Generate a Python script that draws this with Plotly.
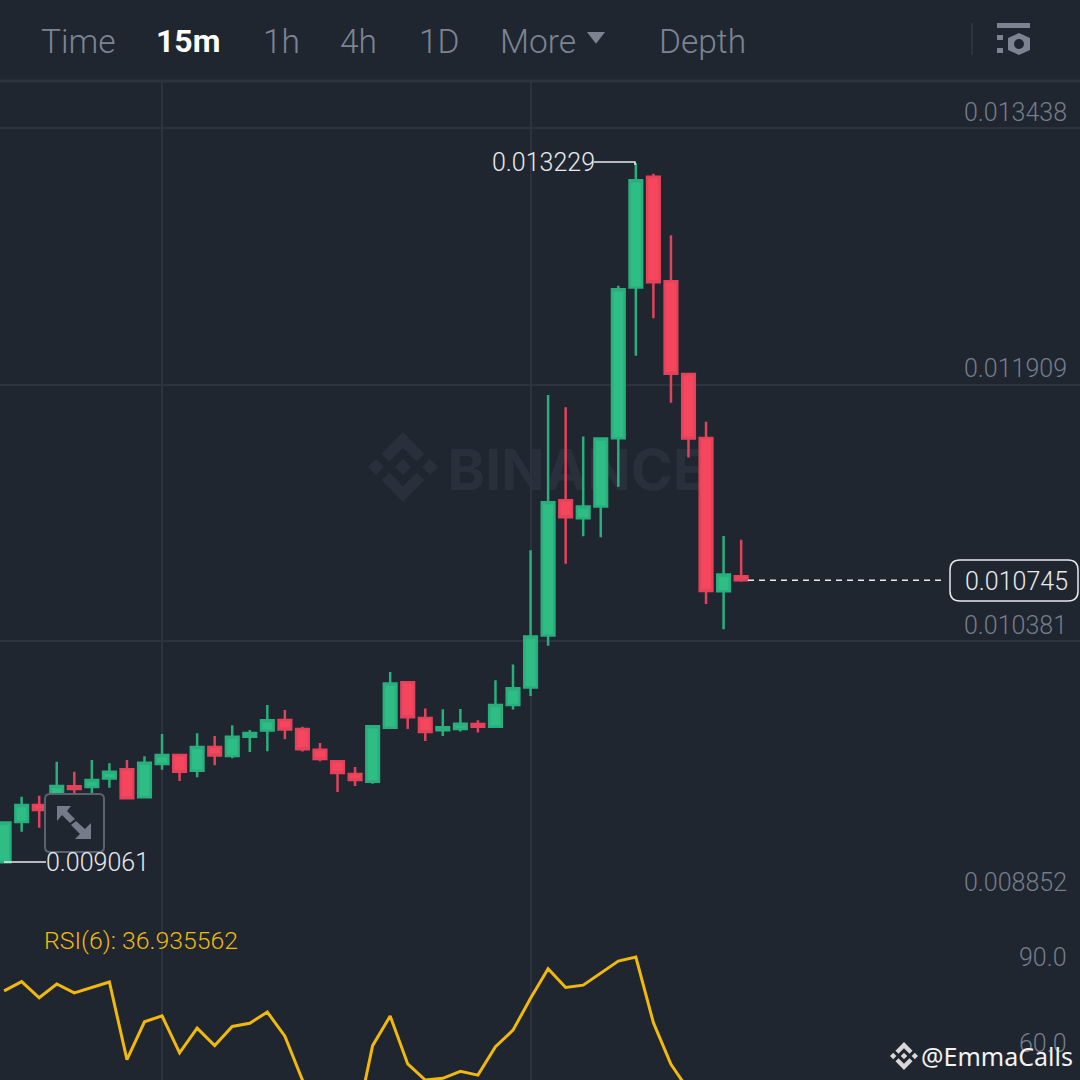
import plotly.graph_objects as go

# candle values
open_prices = [0.009065, 0.009305, 0.009406, 0.009388, 0.009517, 0.009513, 0.009563, 0.009619, 0.009452, 0.009650,
               0.009704, 0.009610, 0.009752, 0.009698, 0.009813, 0.009849, 0.009912, 0.009859, 0.009735, 0.009666,
               0.009591, 0.009545, 0.009866, 0.010137, 0.009924, 0.009851, 0.009859, 0.009889, 0.009872, 0.010002,
               0.010105, 0.010415, 0.011221, 0.011114, 0.011183, 0.011590, 0.012488, 0.013147, 0.012526, 0.011973,
               0.011592, 0.010679, 0.010768]
high_prices = [0.009305, 0.009455, 0.009461, 0.009664, 0.009604, 0.009674, 0.009654, 0.009674, 0.009696, 0.009829,
               0.009710, 0.009833, 0.009817, 0.009881, 0.009853, 0.010002, 0.009972, 0.009872, 0.009775, 0.009670,
               0.009632, 0.009877, 0.010198, 0.010143, 0.009980, 0.009976, 0.009978, 0.009911, 0.010149, 0.010242,
               0.010923, 0.011848, 0.011775, 0.011600, 0.011588, 0.012499, 0.013229, 0.013165, 0.012800, 0.011978,
               0.011688, 0.011008, 0.010985]
low_prices = [0.009061, 0.009247, 0.009271, 0.009346, 0.009454, 0.009466, 0.009509, 0.009438, 0.009449, 0.009616,
              0.009549, 0.009571, 0.009642, 0.009684, 0.009722, 0.009726, 0.009797, 0.009724, 0.009666, 0.009483,
              0.009519, 0.009533, 0.009863, 0.009859, 0.009787, 0.009817, 0.009843, 0.009837, 0.009871, 0.009974,
              0.010055, 0.010355, 0.010843, 0.011007, 0.011001, 0.011302, 0.012081, 0.012305, 0.011801, 0.011475,
              0.010603, 0.010453, 0.010736]
close_prices = [0.009301, 0.009406, 0.009376, 0.009519, 0.009501, 0.009555, 0.009604, 0.009446, 0.009658, 0.009704,
                0.009604, 0.009752, 0.009700, 0.009813, 0.009835, 0.009911, 0.009855, 0.009738, 0.009680, 0.009597,
                0.009555, 0.009875, 0.010130, 0.009928, 0.009841, 0.009869, 0.009890, 0.009872, 0.010002, 0.010101,
                0.010409, 0.011209, 0.011120, 0.011183, 0.011588, 0.012478, 0.013127, 0.012520, 0.011975, 0.011588,
                0.010681, 0.010778, 0.010745]
rsi_values = [78.2, 81.4, 75.8, 80.6, 77.5, 79.4, 81.3, 54.2, 67.4, 69.5,
              56.6, 65.2, 59.1, 65.8, 66.9, 70.8, 62.4, 47.1, 40.0, 38.0,
              30.0, 59.1, 69.4, 52.7, 47.1, 47.7, 50.1, 48.8, 58.7, 64.5,
              75.6, 85.9, 79.4, 80.2, 84.4, 88.6, 90.0, 67.1, 52.6, 43.6,
              33.0, 38.0, 36.9]
price_ticks = [0.013438, 0.011909, 0.010381, 0.008852]
price_labels = ['0.013438', '0.011909', '0.010381', '0.008852']
rsi_ticks = [90, 60]
rsi_labels = ['90.0', '60.0']
menu_items = ['Time', '15m', '1h', '4h', '1D', 'More', 'Depth']
menu_x = [39.5, 155, 261.5, 338.5, 417.5, 499, 658]
candle_idx = list(range(len(open_prices)))

BG = '#1F2630'
GRID = '#2C333E'
GREY = '#757D8A'
MENU = '#7C8493'
GREEN = '#2EBD85'
RED = '#F6465D'
YELLOW = '#F0B90B'
LABEL = '#E8EAEE'
FONT = 'Roboto'


# screen pixels to paper coordinates
def px(x):
    return x / 1080


def py(y):
    return 1 - y / 1080


def poly(points):
    return 'M' + 'L'.join(f'{px(x):.5f},{py(y):.5f}' for x, y in points) + 'Z'


def round_rect(x0, y0, x1, y1, r):
    c = [(x0 + r, y0), (x1 - r, y0), (x1, y0 + r), (x1, y1 - r), (x1 - r, y1), (x0 + r, y1), (x0, y1 - r), (x0, y0 + r)]
    p = [(px(a), py(b)) for a, b in c]
    return (f'M{p[0][0]},{p[0][1]}L{p[1][0]},{p[1][1]}Q{px(x1)},{py(y0)} {p[2][0]},{p[2][1]}'
            f'L{p[3][0]},{p[3][1]}Q{px(x1)},{py(y1)} {p[4][0]},{p[4][1]}'
            f'L{p[5][0]},{p[5][1]}Q{px(x0)},{py(y1)} {p[6][0]},{p[6][1]}'
            f'L{p[7][0]},{p[7][1]}Q{px(x0)},{py(y0)} {p[0][0]},{p[0][1]}Z')


# binance mark, drawn on a unit square centred on (cx, cy)
def logo_shapes(cx, cy, r, color, layer):
    pieces = [
        [(-.39, -.16), (0, -.55), (.39, -.16), (.61, -.38), (0, -1), (-.61, -.38)],
        [(-.39, .16), (0, .55), (.39, .16), (.61, .38), (0, 1), (-.61, .38)],
        [(-1, 0), (-.77, -.23), (-.55, 0), (-.77, .23)],
        [(1, 0), (.77, -.23), (.55, 0), (.77, .23)],
        [(-.23, 0), (0, -.23), (.23, 0), (0, .23)],
    ]
    return [dict(type='path', xref='paper', yref='paper', layer=layer, line_width=0, fillcolor=color,
                 path=poly([(cx + a * r, cy + b * r) for a, b in pc])) for pc in pieces]


def text(x, y, s, color, size, anchor='left', family=FONT, weight=300):
    return dict(xref='paper', yref='paper', x=px(x), y=py(y), text=s, showarrow=False, xanchor=anchor, yanchor='middle',
                font=dict(color=color, size=size, family=family, weight=weight), borderpad=0)


fig = go.Figure()
fig.add_trace(go.Candlestick(x=candle_idx, open=open_prices, high=high_prices, low=low_prices, close=close_prices,
                             whiskerwidth=0,
                             increasing=dict(line=dict(color='#2AAE7C', width=2.5), fillcolor=GREEN),
                             decreasing=dict(line=dict(color='#E2435A', width=2.5), fillcolor=RED)))
fig.add_trace(go.Scatter(x=candle_idx, y=rsi_values, mode='lines', xaxis='x2', yaxis='y2',
                         line=dict(color=YELLOW, width=3)))

annotations = []
for item, x in zip(menu_items, menu_x):
    if item == '15m':
        annotations.append(text(x, 41, item, '#FFFFFF', 32, weight='bold'))
    else:
        annotations.append(text(x, 41, item, MENU, 33.5))
for tick, label in zip(price_ticks, price_labels):
    annotations.append(dict(xref='paper', yref='y', x=px(1068.5), y=tick, yshift=16, text=label, showarrow=False,
                            xanchor='right', yanchor='middle', font=dict(color=GREY, size=25, family=FONT, weight=300)))
for tick, label in zip(rsi_ticks, rsi_labels):
    annotations.append(dict(xref='paper', yref='y2', x=px(1068.5), y=tick, text=label, showarrow=False,
                            xanchor='right', yanchor='middle', font=dict(color=GREY, size=25, family=FONT, weight=300)))
annotations.append(text(491, 162, '0.013229', LABEL, 25))
annotations.append(text(44.5, 862, '0.009061', LABEL, 25))
annotations.append(text(1068.5, 581, '0.010745', LABEL, 25, anchor='right'))
annotations.append(text(43, 940, 'RSI(6): 36.935562', YELLOW, 24.8))
annotations.append(text(920, 1056, '@EmmaCalls', '#F2F2F2', 25, family='Noto Sans', weight=400))

shapes = []
# header divider and the pane lines
shapes.append(dict(type='line', xref='paper', yref='paper', x0=0, x1=1, y0=py(81), y1=py(81),
                   line=dict(color=GRID, width=3)))
shapes.append(dict(type='line', xref='paper', yref='paper', x0=px(972), x1=px(972), y0=py(23), y1=py(55),
                   line=dict(color=GRID, width=2)))
# watermark sits under the candles
shapes += logo_shapes(403, 467, 35, '#2A303B', 'below')
shapes.append(dict(type='rect', xref='paper', yref='paper', x0=px(447), x1=px(708), y0=py(445), y1=py(490), layer='below',
                   line_width=0, fillcolor='rgba(0,0,0,0)',
                   label=dict(text='<b>BINANCE</b>', textposition='middle center',
                              font=dict(color='#2A303B', size=57, family='Inter'))))
# More arrow
shapes.append(dict(type='path', xref='paper', yref='paper', line=dict(color=MENU, width=2), fillcolor=MENU,
                   path=poly([(589, 33), (603, 33), (596, 42)])))
# settings icon
icon = [[(997, 23), (1030, 23), (1030, 28), (997, 28)],
        [(997, 35), (1003, 35), (1003, 40), (997, 40)],
        [(997, 48), (1003, 48), (1003, 53), (997, 53)],
        [(1008, 38), (1019, 33), (1030, 38), (1030, 50), (1019, 55), (1008, 50)]]
for pc in icon:
    shapes.append(dict(type='path', xref='paper', yref='paper', line_width=0, fillcolor=MENU, path=poly(pc)))
shapes.append(dict(type='circle', xref='paper', yref='paper', x0=px(1014), x1=px(1024), y0=py(39), y1=py(49),
                   line_width=0, fillcolor=BG))
# expand button
shapes.append(dict(type='path', xref='paper', yref='paper', line=dict(color='#5A6270', width=2), fillcolor=BG,
                   path=round_rect(45, 794, 104, 852, 5)))
arrows = [[(57, 806), (71, 806), (67, 811), (75, 819), (70, 823), (62, 815), (57, 821)],
          [(91, 839), (75, 839), (80, 834), (71, 825), (76, 821), (85, 829), (91, 823)]]
for pc in arrows:
    shapes.append(dict(type='path', xref='paper', yref='paper', line_width=0, fillcolor='#757C89', path=poly(pc)))
# high and low leaders
shapes.append(dict(type='path', xref='paper', yref='paper', line=dict(color=LABEL, width=1.5),
                   path=f'M{px(594)},{py(162)}L{px(635)},{py(162)}L{px(635)},{py(165)}'))
shapes.append(dict(type='line', xref='paper', yref='paper', x0=px(4), x1=px(46), y0=py(862), y1=py(862),
                   line=dict(color=LABEL, width=1.5)))
# current price
shapes.append(dict(type='line', xref='paper', yref='y', x0=px(748), x1=px(942), y0=close_prices[-1], y1=close_prices[-1],
                   line=dict(color=LABEL, width=1.5, dash='6px,5px')))
shapes.append(dict(type='path', xref='paper', yref='paper', line=dict(color=LABEL, width=1.5), fillcolor=BG,
                   path=round_rect(950, 560, 1078, 601, 10)))
# footer tag
shapes += logo_shapes(904, 1056, 14, '#D8D8D8', 'above')

fig.update_layout(
    width=1080, height=1080, autosize=False, showlegend=False,
    margin=dict(l=0, r=0, t=0, b=0, pad=0),
    paper_bgcolor=BG, plot_bgcolor=BG,
    boxgap=0.28, boxgroupgap=0,
    annotations=annotations, shapes=shapes,
    xaxis=dict(domain=[0, 1], range=[-0.234, 61.31], anchor='y', tickvals=[9, 30], showticklabels=False, ticks='',
               showgrid=True, gridcolor=GRID, gridwidth=2, zeroline=False, showline=False, rangeslider=dict(visible=False)),
    yaxis=dict(domain=[182 / 1080, 998 / 1080], range=[0.008852, 0.013712], anchor='x', tickvals=price_ticks,
               showticklabels=False, ticks='', showgrid=True, gridcolor=GRID, gridwidth=2, zeroline=False, showline=False),
    xaxis2=dict(domain=[0, 1], range=[-0.234, 61.31], anchor='y2', tickvals=[9, 30], showticklabels=False, ticks='',
                showgrid=True, gridcolor=GRID, gridwidth=2, zeroline=False, showline=False),
    yaxis2=dict(domain=[0, 182 / 1080], range=[47.1, 110.6], anchor='x2', tickvals=rsi_ticks, showticklabels=False,
                ticks='', showgrid=False, zeroline=False, showline=False),
)

fig.write_html("out.html", config={'displayModeBar': False}, post_script="document.body.style.margin='0'")
